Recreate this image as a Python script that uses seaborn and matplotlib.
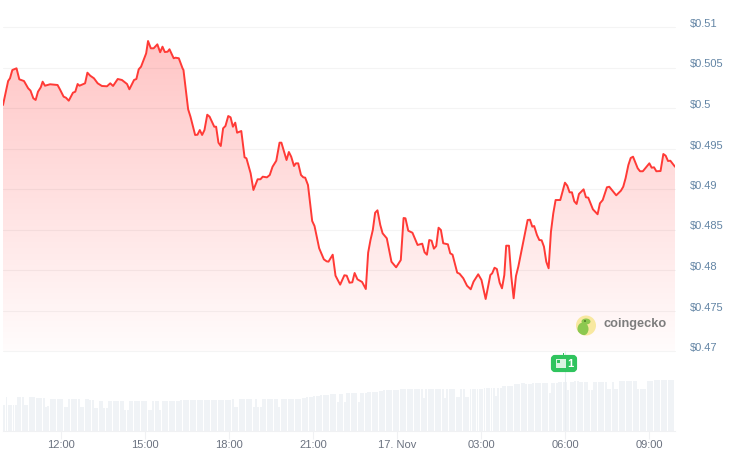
import numpy as np
import seaborn as sns
import matplotlib
matplotlib.use('Agg')
import matplotlib.pyplot as plt
from matplotlib.patches import Circle, FancyBboxPatch, Rectangle, Ellipse
from matplotlib.transforms import ScaledTranslation

# minutes since the start of the window (about 09:55)
minutes = [0, 11, 15, 20, 29, 35, 45, 54, 59, 65, 70, 75, 81, 85, 90, 101, 117, 122, 130, 135, 141, 150, 155, 160, 164,
           176, 181, 187, 195, 203, 212, 223, 230, 236, 246, 255, 266, 271, 281, 286, 291, 296, 307, 311, 317, 323,
           331, 337, 342, 347, 353, 357, 366, 370, 377, 385, 387, 392, 397, 402, 412, 417, 422, 427, 432, 438, 443,
           453, 457, 462, 467, 472, 477, 483, 488, 493, 498, 502, 511, 518, 522, 531, 537, 546, 552, 557, 566, 572,
           578, 586, 593, 597, 608, 613, 618, 624, 628, 633, 639, 644, 648, 654, 663, 668, 672, 678, 682, 688, 694,
           698, 707, 713, 723, 732, 737, 743, 749, 754, 760, 770, 778, 783, 788, 793, 798, 803, 809, 814, 823, 833,
           843, 853, 859, 863, 869, 878, 889, 899, 904, 909, 914, 919, 924, 929, 934, 939, 944, 954, 959, 964, 974,
           979, 987, 995, 1003, 1009, 1019, 1026, 1035, 1045, 1049, 1054, 1059, 1065, 1070, 1075, 1079, 1085, 1090,
           1095, 1100, 1105, 1115, 1125, 1130, 1135, 1139, 1145, 1150, 1155, 1160, 1165, 1170, 1175, 1180, 1185, 1195,
           1205, 1210, 1215, 1220, 1225, 1230, 1235, 1245, 1250, 1255, 1265, 1275, 1280, 1286, 1295, 1300, 1315, 1325,
           1330, 1335, 1341, 1346, 1351, 1361, 1366, 1372, 1386, 1391, 1396, 1401, 1410, 1416, 1421, 1426, 1431, 1441]
price = [.50037, .50333, .50367, .50469, .5049, .50354, .50333, .50243, .50214, .5012, .50099, .50201, .50256, .50325,
         .50275, .50293, .50284, .50231, .5014, .50127, .5009, .50189, .50201, .50296, .50275, .50305, .50436, .50399,
         .50367, .50305, .50272, .50268, .50305, .50272, .50358, .50346, .50296, .50231, .50346, .50358, .50478, .5051,
         .50675, .50827, .50737, .50737, .50786, .50688, .50757, .50691, .50695, .50725, .50614, .50621, .50614, .5049,
         .50469, .50222, .49984, .49893, .49667, .4967, .49728, .49667, .49728, .49917, .49893, .49769, .49769, .49572,
         .49531, .49749, .49778, .49901, .49885, .49769, .49819, .49695, .49716, .49391, .49379, .49194, .48988, .4912,
         .4912, .49152, .49144, .49173, .49275, .49349, .49572, .49572, .49358, .49457, .49399, .49284, .49317, .49317,
         .49173, .49144, .4914, .49049, .48605, .48543, .48432, .48268, .48214, .48132, .48107, .48103, .48189, .4793,
         .47819, .47935, .4793, .47843, .47848, .47963, .47885, .47852, .47765, .48214, .4837, .48494, .48707, .48737,
         .48556, .48453, .48391, .48102, .48033, .48123, .48642, .48638, .48485, .4846, .48309, .48325, .48219, .48189,
         .4837, .48362, .48263, .48296, .48522, .48494, .4833, .48317, .48206, .48189, .47967, .47954, .47898, .47806,
         .47762, .47856, .47947, .47877, .47642, .47938, .47959, .48028, .48012, .47843, .47774, .47938, .483, .483,
         .47917, .47651, .47926, .48041, .4833, .48617, .48621, .48535, .48543, .48432, .4837, .48367, .48288, .48102,
         .48021, .48473, .487, .48864, .48864, .49078, .49041, .48959, .48959, .48848, .48815, .48938, .48996, .48898,
         .48893, .48749, .48688, .48823, .48864, .49021, .49028, .48922, .48979, .49028, .49132, .49296, .49383, .49399,
         .49256, .49219, .49219, .49317, .49263, .49268, .49219, .49222, .49432, .49411, .49346, .49349, .49275]
# volume per 5 minute bar, arbitrary units
volume = [26, 34, 26, 26, 26, 26, 34, 34, 34, 26, 26, 34, 34, 34, 33, 33, 33, 33, 24, 25, 32, 32, 32, 32, 32, 32, 24, 24,
          32, 32, 32, 32, 32, 24, 24, 32, 32, 31, 31, 23, 23, 30, 30, 23, 23, 30, 30, 30, 30, 30, 30, 30, 21, 21,
          30, 30, 30, 30, 30, 30, 30, 30, 21, 21, 30, 30, 30, 21, 30, 30, 30, 30, 30, 30, 30, 30,
          31, 31, 31, 31, 31, 31, 31, 31, 31, 31, 31, 31, 31, 31, 31, 31, 31, 31, 31, 31, 31, 31, 32, 24, 24,
          32, 32, 32, 32, 32, 32, 24, 32,
          24, 24, 32, 32, 32, 32, 32, 32, 32, 24, 32, 32, 32, 32, 32, 32, 32, 32, 32, 33, 33, 34, 34, 34, 35, 35, 35,
          36, 36, 36, 36, 37, 37, 37, 29, 37, 37, 29, 38, 38, 38, 38, 38, 29, 38, 38, 38, 39, 39, 39, 39, 39, 40, 40,
          41, 41, 41, 41, 41, 41, 41, 42, 42, 42, 42, 42, 42, 42, 42, 42, 42, 33, 42, 42, 42, 42, 42, 42, 42, 42, 33,
          42, 42, 42, 42, 34, 34, 42, 42, 34,
          34, 42, 42, 42, 42, 42, 42, 43, 43, 43, 43, 43, 35, 43, 43, 45, 45, 45, 45, 45, 47, 47, 47, 48, 48, 47, 47, 47,
          48, 48, 48, 48, 48, 48, 48, 38, 48, 48, 48, 49, 49, 49, 49, 41, 49, 49, 50, 50, 49, 49, 49, 49, 41, 41,
          49, 49, 49, 49, 49, 49, 42, 42, 49, 42, 42, 50, 50, 50, 50, 50, 50, 50, 50, 42, 42, 42, 42, 50, 50, 50,
          51, 51, 51, 51, 51, 51, 51, 51, 51]
bar_minutes = [2.5 + 1440 / len(volume) * i for i in range(len(volume))]

y_ticks = [0.47, 0.475, 0.48, 0.485, 0.49, 0.495, 0.5, 0.505, 0.51]
y_labels = ['$0.47', '$0.475', '$0.48', '$0.485', '$0.49', '$0.495', '$0.5', '$0.505', '$0.51']
x_ticks = [125, 305, 485, 665, 845, 1025, 1205, 1385]
x_labels = ['12:00', '15:00', '18:00', '21:00', '17. Nov', '03:00', '06:00', '09:00']

W, H = 731, 468
sns.set_theme(style='white')
plt.rcParams['font.family'] = ['Liberation Sans', 'DejaVu Sans']

fig = plt.figure(figsize=(W / 100, H / 100), dpi=100)
ax = fig.add_axes([3 / W, 1 - 351 / H, 672 / W, 324 / H])
vol_ax = fig.add_axes([3 / W, 1 - 431 / H, 672 / W, 80 / H])

# price area with a fading red fill
poly = ax.fill_between(minutes, price, 0.47, color='none', linewidth=0)
rgba = np.zeros((256, 1, 4))
rgba[..., 0] = 1.0
rgba[..., 1] = 0.0
rgba[..., 2] = 0.0
rgba[..., 3] = np.linspace(0.24, 0.015, 256)[:, None]
im = ax.imshow(rgba, extent=(0, 1441, 0.47, 0.51), aspect='auto', origin='upper', zorder=1)
im.set_clip_path(poly.get_paths()[0], ax.transData)
sns.lineplot(x=minutes, y=price, estimator=None, sort=False, color='#ff3a36', linewidth=1.4, ax=ax, zorder=3)

ax.set_xlim(0, 1441)
ax.set_ylim(0.47, 0.51)
ax.set_xticks([])
ax.set_yticks(y_ticks)
ax.set_yticklabels(y_labels, fontsize=8, color='#6385a5')
ax.yaxis.tick_right()
ax.tick_params(axis='y', length=0, pad=10.7)
offset = ScaledTranslation(0, 4 / 100, fig.dpi_scale_trans)
for lab in ax.get_yticklabels():
    lab.set_transform(lab.get_transform() + offset)
ax.grid(axis='y', color='black', alpha=0.045, linewidth=0.8)
ax.set_axisbelow(False)
for g in ax.get_ygridlines():
    g.set_clip_on(False)
    g.set_zorder(2)
sns.despine(ax=ax, left=True, right=True, top=True, bottom=True)
ax.patch.set_alpha(0)

# volume bars
sns.barplot(x=bar_minutes, y=volume, native_scale=True, color='#f0f3f6', saturation=1, width=0.85, linewidth=0, ax=vol_ax)
vol_ax.axvline(x_ticks[6], color='#e9edf1', linewidth=0.8, zorder=5)
vol_ax.set_xlim(0, 1441)
vol_ax.set_ylim(0, 80)
vol_ax.set_yticks([])
vol_ax.set_xticks(x_ticks)
vol_ax.set_xticklabels(x_labels, fontsize=8, color='#6b7280')
vol_ax.tick_params(axis='x', length=6, width=0.8, color='#f0f1f3', pad=0.8, bottom=True)
vol_ax.set_xlabel('')
vol_ax.set_ylabel('')
sns.despine(ax=vol_ax, left=True, right=True, top=True)
vol_ax.spines['bottom'].set_color('#f0f1f3')
vol_ax.spines['bottom'].set_linewidth(0.8)
vol_ax.patch.set_alpha(0)

# overlay in pixels for the logo and the news flag
over = fig.add_axes([0, 0, 1, 1], zorder=10)
over.set_xlim(0, W)
over.set_ylim(H, 0)
over.axis('off')
over.patch.set_alpha(0)
badge = Circle((586, 325.5), 10, color='#f8e8a0', linewidth=0)
over.add_patch(badge)
body = Ellipse((583, 329), 11, 13, color='#8cc850', linewidth=0)
over.add_patch(body)
body.set_clip_path(badge)
head = Ellipse((586, 321.5), 9, 6, color='#8cc850', linewidth=0)
over.add_patch(head)
over.add_patch(Circle((585, 321), 1, color='#4f7f2a', linewidth=0))
over.text(603, 324.5, 'coingecko', fontsize=9.2, fontweight='bold', color='#7d7d7d', va='center', ha='left')

over.add_patch(Rectangle((562.5, 353), 1.2, 3, color='#2fc45e', linewidth=0))
over.add_patch(FancyBboxPatch((553, 357), 22, 13, boxstyle='round,pad=0,rounding_size=2', mutation_scale=1,
                              facecolor='#2fc45e', edgecolor='#2fc45e', linewidth=3))
over.add_patch(Rectangle((555.5, 358.5), 10, 9.5, facecolor='#d8f3df', edgecolor='none'))
over.add_patch(Rectangle((557, 360), 3, 2.5, facecolor='#2fc45e', edgecolor='none'))
over.text(570.5, 364, '1', fontsize=8, fontweight='bold', color='white', ha='center', va='center')

fig.savefig('out.png', dpi=100)
